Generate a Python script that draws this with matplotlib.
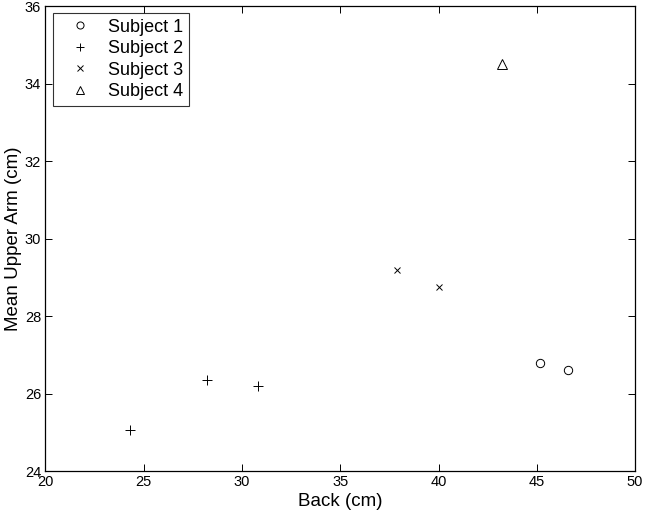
import matplotlib
matplotlib.use("Agg")
import matplotlib.pyplot as plt

plt.rcParams['font.family'] = ['Liberation Sans', 'DejaVu Sans']

subjects = ["Subject 1", "Subject 2", "Subject 3", "Subject 4"]
back = [
    [45.15, 46.6],
    [24.3, 28.2, 30.8],
    [37.9, 40.0],
    [43.25],
]
upper_arm = [
    [26.8, 26.6],
    [25.05, 26.35, 26.2],
    [29.2, 28.75],
    [34.5],
]
markers = ["o", "+", "x", "^"]
msizes = [6, 7, 4.5, 6.5]

xticks = [20, 25, 30, 35, 40, 45, 50]
yticks = [24, 26, 28, 30, 32, 34, 36]

fig = plt.figure(figsize=(6.45, 5.22), dpi=100)
ax = fig.add_axes([0.0702, 0.0977, 0.9145, 0.8908])

for name, xs, ys, m, s in zip(subjects, back, upper_arm, markers, msizes):
    ax.plot(xs, ys, linestyle="none", marker=m, markersize=s,
            markerfacecolor="none", markeredgecolor="black",
            markeredgewidth=0.7, color="black", label=name)

ax.set_xlim(20, 50)
ax.set_ylim(24, 36)
ax.set_xticks(xticks)
ax.set_yticks(yticks)
ax.tick_params(direction="in", top=True, right=True, length=5, width=0.7,
               labelsize=10.5, pad=3)
for sp in ax.spines.values():
    sp.set_linewidth(0.9)

ax.set_xlabel("Back (cm)", fontsize=13.5, labelpad=3)
ax.set_ylabel("Mean Upper Arm (cm)", fontsize=13.5, labelpad=2)

leg = ax.legend(loc="upper left", fontsize=13, frameon=True, fancybox=False,
                edgecolor="black", borderpad=0.3, labelspacing=0.25,
                handlelength=2.4, handletextpad=0.4, borderaxespad=0.4,
                markerscale=0.85)
leg.get_frame().set_linewidth(0.8)

fig.savefig("out.png", dpi=100)
